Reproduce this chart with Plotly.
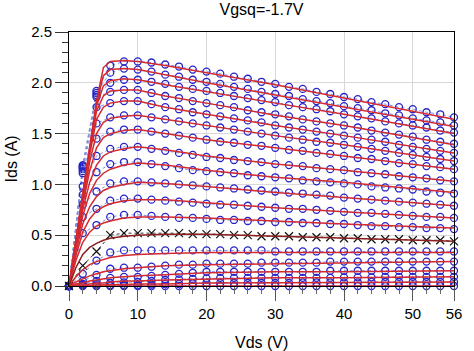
import plotly.graph_objects as go

# ---------------- data ----------------
vds = [0, 2, 4, 6, 8, 10, 12, 14, 16, 18, 20, 22, 24, 26, 28, 30, 32, 34, 36, 38,
       40, 42, 44, 46, 48, 50, 52, 54, 56]

# measured Ids (A), one list per gate-voltage step (top to bottom)
m00 = [0, 1.19, 1.92, 2.17, 2.21, 2.21, 2.20, 2.18, 2.16, 2.13, 2.11, 2.09, 2.06, 2.04, 2.01, 1.99, 1.96, 1.94, 1.91, 1.89, 1.86, 1.84, 1.81, 1.79, 1.76, 1.74, 1.71, 1.69, 1.66]
m01 = [0, 1.18, 1.90, 2.10, 2.14, 2.13, 2.11, 2.08, 2.06, 2.03, 2.01, 1.99, 1.96, 1.94, 1.91, 1.89, 1.87, 1.84, 1.82, 1.80, 1.77, 1.75, 1.73, 1.70, 1.68, 1.65, 1.63, 1.61, 1.58]
m02 = [0, 1.17, 1.88, 2.00, 2.03, 2.03, 2.01, 1.99, 1.96, 1.94, 1.92, 1.90, 1.87, 1.85, 1.83, 1.81, 1.78, 1.76, 1.74, 1.72, 1.69, 1.67, 1.65, 1.62, 1.60, 1.58, 1.56, 1.53, 1.51]
m03 = [0, 1.16, 1.86, 1.91, 1.93, 1.93, 1.90, 1.87, 1.85, 1.82, 1.80, 1.78, 1.76, 1.73, 1.71, 1.69, 1.67, 1.64, 1.62, 1.60, 1.58, 1.56, 1.53, 1.51, 1.49, 1.47, 1.44, 1.42, 1.40]
m04 = [0, 1.15, 1.76, 1.80, 1.82, 1.82, 1.79, 1.76, 1.74, 1.71, 1.69, 1.67, 1.65, 1.63, 1.61, 1.58, 1.56, 1.54, 1.52, 1.50, 1.48, 1.46, 1.44, 1.42, 1.39, 1.37, 1.35, 1.33, 1.31]
m05 = [0, 1.13, 1.60, 1.66, 1.68, 1.68, 1.66, 1.64, 1.62, 1.60, 1.58, 1.56, 1.54, 1.52, 1.50, 1.48, 1.46, 1.44, 1.42, 1.41, 1.39, 1.37, 1.35, 1.33, 1.31, 1.29, 1.27, 1.25, 1.23]
m06 = [0, 1.11, 1.45, 1.52, 1.54, 1.54, 1.52, 1.50, 1.48, 1.46, 1.44, 1.42, 1.41, 1.39, 1.38, 1.36, 1.34, 1.33, 1.31, 1.30, 1.28, 1.26, 1.25, 1.23, 1.21, 1.20, 1.18, 1.17, 1.15]
m07 = [0, 0.98, 1.28, 1.35, 1.37, 1.37, 1.35, 1.33, 1.31, 1.29, 1.27, 1.26, 1.24, 1.23, 1.22, 1.20, 1.19, 1.18, 1.16, 1.15, 1.14, 1.12, 1.11, 1.10, 1.08, 1.07, 1.06, 1.04, 1.03]
m08 = [0, 0.90, 1.12, 1.20, 1.22, 1.22, 1.20, 1.18, 1.16, 1.14, 1.13, 1.12, 1.11, 1.09, 1.08, 1.07, 1.06, 1.04, 1.03, 1.02, 1.01, 1.00, 0.98, 0.97, 0.96, 0.95, 0.93, 0.92, 0.91]
m09 = [0, 0.80, 0.93, 1.01, 1.03, 1.03, 1.02, 1.01, 1.00, 0.99, 0.98, 0.97, 0.96, 0.95, 0.94, 0.93, 0.92, 0.91, 0.90, 0.89, 0.87, 0.86, 0.85, 0.84, 0.83, 0.82, 0.81, 0.80, 0.79]
m10 = [0, 0.68, 0.76, 0.84, 0.86, 0.86, 0.85, 0.84, 0.83, 0.82, 0.81, 0.80, 0.80, 0.79, 0.78, 0.77, 0.76, 0.76, 0.75, 0.74, 0.73, 0.72, 0.72, 0.71, 0.70, 0.69, 0.68, 0.68, 0.67]
m11 = [0, 0.52, 0.60, 0.68, 0.70, 0.70, 0.69, 0.68, 0.67, 0.67, 0.66, 0.65, 0.65, 0.64, 0.64, 0.63, 0.63, 0.62, 0.62, 0.61, 0.61, 0.60, 0.59, 0.59, 0.58, 0.58, 0.57, 0.57, 0.56]
m13 = [0, 0.12, 0.25, 0.33, 0.35, 0.35, 0.35, 0.35, 0.35, 0.35, 0.35, 0.35, 0.35, 0.35, 0.35, 0.34, 0.34, 0.34, 0.34, 0.34, 0.34, 0.34, 0.34, 0.34, 0.34, 0.34, 0.34, 0.34, 0.34]
m14 = [0, 0.05, 0.11, 0.17, 0.18, 0.18, 0.19, 0.20, 0.21, 0.21, 0.22, 0.22, 0.22, 0.22, 0.23, 0.23, 0.23, 0.23, 0.23, 0.24, 0.24, 0.24, 0.24, 0.24, 0.24, 0.24, 0.24, 0.24, 0.24]
m15 = [0, 0.02, 0.05, 0.08, 0.09, 0.09, 0.10, 0.11, 0.12, 0.13, 0.14, 0.14, 0.14, 0.14, 0.14, 0.14, 0.14, 0.14, 0.14, 0.15, 0.15, 0.15, 0.15, 0.15, 0.15, 0.15, 0.15, 0.15, 0.15]
m16 = [0, 0.01, 0.02, 0.03, 0.035, 0.04, 0.05, 0.06, 0.065, 0.07, 0.075, 0.08, 0.08, 0.08, 0.08, 0.08, 0.08, 0.08, 0.08, 0.08, 0.085, 0.085, 0.085, 0.09, 0.09, 0.09, 0.09, 0.09, 0.09]
m17 = [0, 0.005, 0.005, 0.01, 0.01, 0.01, 0.015, 0.02, 0.02, 0.025, 0.03, 0.03, 0.03, 0.03, 0.03, 0.03, 0.03, 0.035, 0.035, 0.035, 0.035, 0.035, 0.04, 0.04, 0.04, 0.04, 0.04, 0.04, 0.04]
m18 = [0, 0, 0, 0, 0, 0, 0, 0, 0, 0, 0, 0, 0, 0, 0, 0, 0, 0, 0, 0, 0, 0, 0, 0, 0, 0, 0, 0, 0]

# quiescent-point curve (x markers)
mq = [0, 0.20, 0.34, 0.50, 0.52, 0.52, 0.52, 0.52, 0.52, 0.51, 0.51, 0.51, 0.50, 0.50, 0.49, 0.49, 0.49, 0.48, 0.48, 0.48, 0.47, 0.47, 0.46, 0.46, 0.46, 0.45, 0.45, 0.45, 0.44]

# model curves
vds_model = [0, 1, 2, 3, 4, 5, 6, 8, 10, 14, 20, 30, 40, 56]
s00 = [0, 0.45, 0.92, 1.38, 1.82, 2.15, 2.21, 2.22, 2.21, 2.17, 2.10, 1.98, 1.85, 1.64]
s01 = [0, 0.45, 0.91, 1.36, 1.80, 2.07, 2.13, 2.14, 2.13, 2.08, 2.00, 1.88, 1.76, 1.57]
s02 = [0, 0.44, 0.90, 1.35, 1.77, 1.97, 2.02, 2.04, 2.03, 1.98, 1.91, 1.80, 1.69, 1.50]
s03 = [0, 0.44, 0.89, 1.33, 1.72, 1.87, 1.92, 1.93, 1.93, 1.87, 1.80, 1.68, 1.58, 1.39]
s04 = [0, 0.43, 0.87, 1.29, 1.64, 1.76, 1.80, 1.82, 1.82, 1.76, 1.69, 1.58, 1.48, 1.31]
s05 = [0, 0.42, 0.84, 1.22, 1.50, 1.61, 1.65, 1.67, 1.68, 1.64, 1.58, 1.48, 1.39, 1.23]
s06 = [0, 0.41, 0.80, 1.13, 1.36, 1.46, 1.50, 1.53, 1.54, 1.50, 1.44, 1.36, 1.28, 1.15]
s07 = [0, 0.39, 0.75, 1.02, 1.19, 1.28, 1.32, 1.35, 1.37, 1.34, 1.28, 1.20, 1.14, 1.03]
s08 = [0, 0.37, 0.69, 0.91, 1.04, 1.11, 1.15, 1.19, 1.21, 1.19, 1.14, 1.07, 1.02, 0.92]
s09 = [0, 0.34, 0.61, 0.78, 0.88, 0.94, 0.97, 1.00, 1.02, 1.01, 0.98, 0.92, 0.87, 0.79]
s10 = [0, 0.30, 0.53, 0.66, 0.74, 0.78, 0.81, 0.84, 0.85, 0.85, 0.82, 0.77, 0.73, 0.67]
s11 = [0, 0.25, 0.43, 0.53, 0.59, 0.62, 0.64, 0.67, 0.68, 0.68, 0.67, 0.64, 0.61, 0.57]
s13 = [0, 0.09, 0.16, 0.21, 0.24, 0.26, 0.28, 0.30, 0.31, 0.32, 0.33, 0.33, 0.33, 0.33]
s14 = [0, 0.04, 0.07, 0.10, 0.12, 0.14, 0.15, 0.17, 0.18, 0.20, 0.21, 0.22, 0.23, 0.24]
s15 = [0, 0.02, 0.03, 0.05, 0.06, 0.07, 0.08, 0.09, 0.10, 0.11, 0.13, 0.14, 0.14, 0.15]
s16 = [0, 0.01, 0.01, 0.02, 0.03, 0.03, 0.04, 0.05, 0.05, 0.06, 0.07, 0.08, 0.08, 0.09]
s17 = [0, 0, 0.005, 0.005, 0.01, 0.01, 0.01, 0.015, 0.02, 0.02, 0.03, 0.03, 0.035, 0.04]
s18 = [0, 0, 0, 0, 0, 0, 0, 0, 0, 0, 0, 0, 0, 0]
sq = [0, 0.18, 0.31, 0.38, 0.42, 0.45, 0.47, 0.49, 0.50, 0.51, 0.51, 0.49, 0.47, 0.44]

x_ticks = [0, 10, 20, 30, 40, 50, 56]
x_ticktext = ["0", "10", "20", "30", "40", "50", "56"]
y_ticks = [0, 0.5, 1.0, 1.5, 2.0, 2.5]
y_ticktext = ["0.0", "0.5", "1.0", "1.5", "2.0", "2.5"]

measured = [m00, m01, m02, m03, m04, m05, m06, m07, m08, m09, m10, m11,
            m13, m14, m15, m16, m17, m18]
model = [s00, s01, s02, s03, s04, s05, s06, s07, s08, s09, s10, s11,
         s13, s14, s15, s16, s17, s18]

# ---------------- figure ----------------
FONT = "Liberation Sans, Arial, Helvetica, sans-serif"
BLUE = "#2424c8"
RED = "#d42a2f"

fig = go.Figure()

for ys in measured:
    fig.add_trace(go.Scatter(
        x=vds, y=ys, mode="lines+markers", cliponaxis=False,
        line=dict(color="#8090e0", width=1, dash="dot"),
        marker=dict(symbol="circle-open", size=7, color=BLUE,
                    line=dict(width=1.3, color=BLUE)),
        hoverinfo="skip"))

fig.add_trace(go.Scatter(
    x=vds, y=mq, mode="lines+markers", cliponaxis=False,
    line=dict(color="#333333", width=1, dash="dot"),
    marker=dict(symbol="x-thin-open", size=8, color="#111111",
                line=dict(width=1.2, color="#111111")),
    hoverinfo="skip"))

for ys in model:
    fig.add_trace(go.Scatter(
        x=vds_model, y=ys, mode="lines", cliponaxis=False,
        line=dict(color=RED, width=1.5), hoverinfo="skip"))

fig.add_trace(go.Scatter(
    x=vds_model, y=sq, mode="lines", cliponaxis=False,
    line=dict(color="#8e1f1f", width=1.5), hoverinfo="skip"))

fig.update_layout(
    width=474, height=351,
    margin=dict(l=69, r=17, t=32, b=65),
    paper_bgcolor="white", plot_bgcolor="white",
    showlegend=False,
    font=dict(family=FONT, size=15, color="black"),
    title=dict(text="Vgsq=-1.7V", x=0.5, xref="paper", xanchor="center",
               y=1 - 9 / 351, yref="container", yanchor="middle",
               font=dict(family=FONT, size=16, color="black")),
)

fig.update_xaxes(
    range=[0, 56], tickmode="array", tickvals=x_ticks, ticktext=x_ticktext,
    ticks="outside", ticklen=14, tickwidth=1, tickcolor="#555555",
    tickfont=dict(family=FONT, size=15, color="black"),
    showline=True, linecolor="black", linewidth=1, mirror=True,
    showgrid=True, gridcolor="#d8d8d8", gridwidth=1, zeroline=False,
    minor=dict(tickmode="array", tickvals=list(range(0, 57, 2)), ticks="outside",
               ticklen=7, tickwidth=1, tickcolor="#666666", showgrid=False),
)
fig.update_yaxes(
    range=[0, 2.5], tickmode="array", tickvals=y_ticks, ticktext=y_ticktext,
    ticks="outside", ticklen=13, tickwidth=1, tickcolor="#333333",
    tickfont=dict(family=FONT, size=15, color="black"),
    showline=True, linecolor="black", linewidth=1, mirror=True,
    showgrid=True, gridcolor="#d8d8d8", gridwidth=1, zeroline=False,
    minor=dict(tickmode="array", tickvals=[i / 10 for i in range(0, 26)], ticks="outside",
               ticklen=6, tickwidth=1, tickcolor="#333333", showgrid=False),
)

fig.add_annotation(text="Vds (V)", xref="paper", yref="paper",
                   x=0.5, y=-(342 - 286) / 254, xanchor="center", yanchor="middle",
                   showarrow=False, font=dict(family=FONT, size=16, color="black"))
fig.add_annotation(text="Ids (A)", xref="paper", yref="paper",
                   x=-(69 - 11) / 388, y=0.5, xanchor="center", yanchor="middle",
                   textangle=-90, showarrow=False,
                   font=dict(family=FONT, size=16, color="black"))

fig.write_html("out.html")
